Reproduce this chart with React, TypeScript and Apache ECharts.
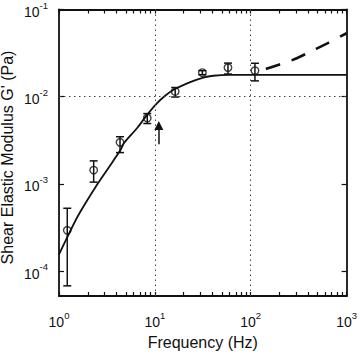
import { useEffect, useRef } from "react";
import * as echarts from "echarts";

// Measured points (frequency in Hz, G' in Pa) with error-bar bounds
const measuredFreq = [1.22, 2.3, 4.33, 8.33, 16.3, 31.3, 57.9, 110.7];
const measuredG = [2.94e-4, 1.44e-3, 3.0e-3, 5.7e-3, 1.148e-2, 1.89e-2, 2.16e-2, 1.99e-2];
const errLow = [6.8e-5, 1.05e-3, 2.29e-3, 4.93e-3, 9.93e-3, 1.79e-2, 1.82e-2, 1.52e-2];
const errHigh = [5.27e-4, 1.84e-3, 3.48e-3, 6.41e-3, 1.276e-2, 1.99e-2, 2.43e-2, 2.42e-2];

// Solid model curve
const fitFreq = [1, 1.2, 1.58, 2.52, 3.36, 4.36, 4.79, 6.57, 8.33, 10.56, 12.9, 15.7, 23.4, 32.0, 40.6, 60, 100, 1000];
const fitG = [1.56e-4, 2.37e-4, 4.33e-4, 1.0e-3, 1.59e-3, 2.43e-3, 2.98e-3, 4.41e-3, 6.24e-3, 8.47e-3, 1.035e-2, 1.202e-2, 1.469e-2, 1.656e-2, 1.74e-2, 1.78e-2, 1.78e-2, 1.78e-2];

// Dashed extension
const extFreq = [110, 144, 271, 372, 622, 1000];
const extG = [1.85e-2, 2.08e-2, 2.63e-2, 3.08e-2, 4.07e-2, 5.34e-2];

// Arrow marking the transition frequency
const arrowFreq = 11.0;
const arrowFromG = 2.85e-3;
const arrowToG = 4.68e-3;

const xTickLabels = [1, 10, 100, 1000];
const yTickLabels = [1e-4, 1e-3, 1e-2, 1e-1];
const xTicks = [
  1, 2, 3, 4, 5, 6, 7, 8, 9,
  10, 20, 30, 40, 50, 60, 70, 80, 90,
  100, 200, 300, 400, 500, 600, 700, 800, 900, 1000,
];
const yTicks = [1e-4, 1e-3, 1e-2, 1e-1];
const xGridLines = [10, 100];
const yGridLines = [1e-2, 1e-3, 1e-4];
const xTitle = "Frequency (Hz)";
const yTitle = "Shear Elastic Modulus G' (Pa)";

const FONT = "'Liberation Sans', Arial, Helvetica, sans-serif";
const INK = "#111";

const powLabel = (v: number) => `{b|10}{s|${Math.round(Math.log10(v))}}`;
const labelRich = {
  b: { fontSize: 14, fontFamily: FONT, color: INK, lineHeight: 19, verticalAlign: "bottom" as const },
  s: { fontSize: 9.5, fontFamily: FONT, color: INK, lineHeight: 19, verticalAlign: "top" as const },
};

export default function App() {
  const ref = useRef<HTMLDivElement>(null);
  useEffect(() => {
    if (!ref.current) return;
    const chart = echarts.init(ref.current, null, { renderer: "svg" });
    const axisLine = { show: true, lineStyle: { color: INK, width: 1.8 } };
    const tickStyle = { color: INK, width: 1.2 };
    const option: any = {
      animation: false,
      backgroundColor: "#fff",
      grid: { left: 59, right: 10, top: 9, bottom: 57, containLabel: false },
      graphic: [
        {
          type: "text",
          x: 7,
          y: 157.5,
          rotation: Math.PI / 2,
          style: {
            text: yTitle,
            fontFamily: FONT,
            fontSize: 16,
            fill: INK,
            align: "center",
            verticalAlign: "middle",
          },
        },
      ],
      xAxis: [
        {
          type: "log",
          logBase: 10,
          min: 1,
          max: 1000,
          position: "bottom",
          axisLine,
          axisTick: { show: true, inside: true, length: 4, customValues: xTicks, lineStyle: tickStyle },
          axisLabel: { customValues: xTickLabels, formatter: powLabel, rich: labelRich, margin: 14 },
          splitLine: { show: false },
          minorTick: { show: false },
          name: xTitle,
          nameLocation: "middle",
          nameGap: 38,
          nameTextStyle: { fontFamily: FONT, fontSize: 16, color: INK },
        },
        {
          type: "log",
          logBase: 10,
          min: 1,
          max: 1000,
          position: "top",
          axisLine,
          axisTick: { show: true, inside: true, length: 4, customValues: xTicks, lineStyle: tickStyle },
          axisLabel: { show: false },
          splitLine: { show: false },
        },
      ],
      yAxis: [
        {
          type: "log",
          logBase: 10,
          min: 5.2e-5,
          max: 0.1,
          position: "left",
          axisLine,
          axisTick: { show: true, inside: true, length: 5, customValues: yTicks, lineStyle: tickStyle },
          axisLabel: { customValues: yTickLabels, formatter: powLabel, rich: labelRich, margin: 11 },
          splitLine: { show: false },
        },
        {
          type: "log",
          logBase: 10,
          min: 5.2e-5,
          max: 0.1,
          position: "right",
          axisLine,
          axisTick: { show: true, inside: true, length: 5, customValues: yTicks, lineStyle: tickStyle },
          axisLabel: { show: false },
          splitLine: { show: false },
        },
      ],
      series: [
        {
          type: "line",
          name: "fit",
          data: fitFreq.map((f, i) => [f, fitG[i]]),
          showSymbol: false,
          smooth: 0.25,
          lineStyle: { color: INK, width: 1.8 },
          z: 3,
          markLine: {
            silent: true,
            symbol: ["none", "none"],
            label: { show: false },
            lineStyle: { type: [1.5, 3.5], color: "#444", width: 1 },
            data: [
              ...xGridLines.map((v) => ({ xAxis: v })),
              ...yGridLines.map((v) => ({ yAxis: v })),
            ],
          },
        },
        {
          type: "line",
          name: "extension",
          data: extFreq.map((f, i) => [f, extG[i]]),
          showSymbol: false,
          smooth: 0.3,
          lineStyle: { color: INK, width: 2.6, type: [15, 12], dashOffset: 15 },
          z: 3,
        },
        {
          type: "custom",
          name: "errors",
          data: measuredFreq.map((f, i) => [f, errLow[i], errHigh[i]]),
          encode: { x: 0, y: [1, 2] },
          z: 4,
          renderItem: (params: any, api: any) => {
            const x = api.value(0);
            const lo = api.coord([x, api.value(1)]);
            const hi = api.coord([x, api.value(2)]);
            const w = 4;
            const style = { stroke: INK, lineWidth: 1.5, fill: "none" };
            return {
              type: "group",
              children: [
                { type: "line", shape: { x1: lo[0], y1: lo[1], x2: hi[0], y2: hi[1] }, style },
                { type: "line", shape: { x1: lo[0] - w, y1: lo[1], x2: lo[0] + w, y2: lo[1] }, style },
                { type: "line", shape: { x1: hi[0] - w, y1: hi[1], x2: hi[0] + w, y2: hi[1] }, style },
              ],
            };
          },
        },
        {
          type: "scatter",
          name: "measured",
          data: measuredFreq.map((f, i) => [f, measuredG[i]]),
          symbol: "circle",
          symbolSize: 7.5,
          itemStyle: { color: "rgba(255,255,255,0)", borderColor: INK, borderWidth: 1.4 },
          z: 5,
        },
        {
          type: "lines",
          name: "arrow",
          coordinateSystem: "cartesian2d",
          data: [{ coords: [[arrowFreq, arrowFromG], [arrowFreq, arrowToG]] }],
          symbol: ["none", "triangle"],
          symbolSize: [6, 9],
          lineStyle: { color: INK, width: 1.5, opacity: 1 },
          itemStyle: { color: INK },
          z: 5,
        },
      ],
    };
    chart.setOption(option);
    return () => chart.dispose();
  }, []);
  return (
    <div
      ref={ref}
      style={{ position: "fixed", left: 0, top: 0, width: 360, height: 355, background: "#fff" }}
    />
  );
}
